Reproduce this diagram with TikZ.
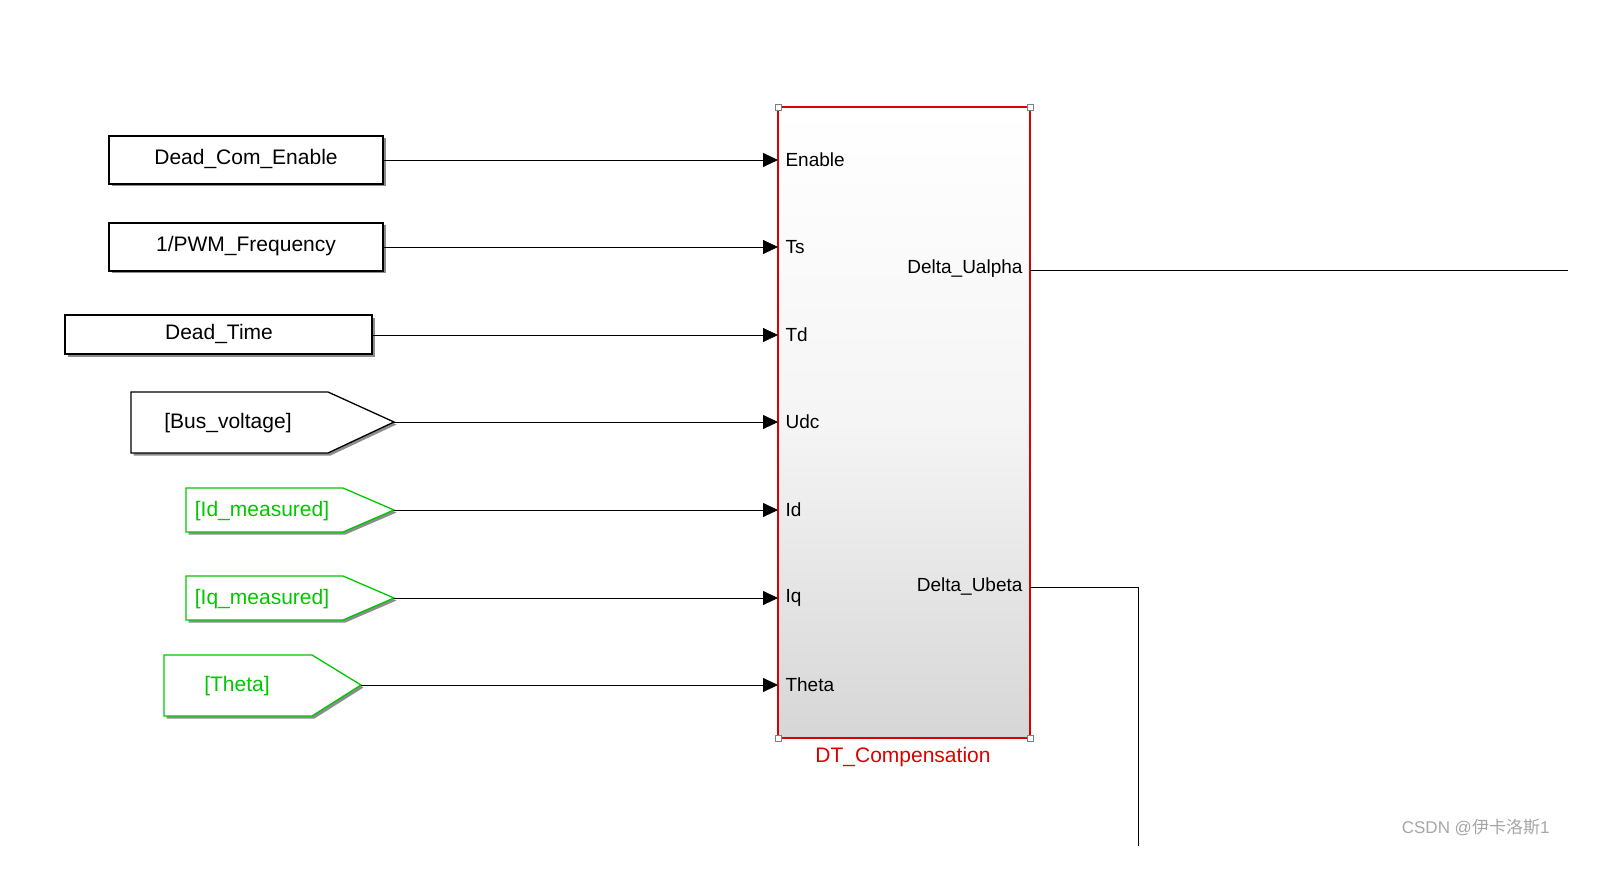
\documentclass[tikz,border=0pt]{standalone}
\usepackage{fontspec}
\setmainfont{Liberation Sans}
\newfontfamily\cjk{Noto Sans CJK SC}
\usetikzlibrary{arrows.meta}
\definecolor{sgreen}{RGB}{0,200,0}
\definecolor{sred}{RGB}{220,0,0}
\begin{document}
\begin{tikzpicture}[x=1pt,y=-1pt,
  blk/.style={draw=black,line width=1.3pt,fill=white},
  gblk/.style={draw=sgreen,line width=1.3pt,fill=white},
  shad/.style={fill=black!45,draw=none,shift={(2.5,2.5)}},
  sig/.style={draw=black,line width=0.8pt,-{Triangle[length=15pt,width=14pt]}},
  wire/.style={draw=black,line width=0.8pt},
  txt/.style={font=\fontsize{21}{25}\selectfont},
  port/.style={font=\fontsize{19}{23}\selectfont},
  handle/.style={draw=black!50,fill=white,minimum size=6pt,inner sep=0pt}]
\useasboundingbox (0,0) rectangle (1610,869);
\clip (0,0) rectangle (1610,869);
% main block
\shade[top color=white,bottom color=black!16,middle color=white!96!black] (778,107) rectangle (1030,738);
\draw[sred,line width=2.4pt] (778,107) rectangle (1030,738);
\node[handle] (h1) at (778,107) {};
\node[handle] (h2) at (1030,107) {};
\node[handle] (h3) at (778,738) {};
\node[handle] (h4) at (1030,738) {};
\node[text=sred,txt] (lab) at (903,757) {DT\_Compensation};
% ports
\foreach \n/\t/\y in {pe/Enable/160,pts/Ts/247,ptd/Td/335,pu/Udc/422,pid/Id/510,piq/Iq/598,pth/Theta/685}{
  \coordinate (\n) at (778,\y);
  \node[port,anchor=west] at (782,\y) {\t};
}
\node[port,anchor=east] (oa) at (1026,269) {Delta\_Ualpha};
\node[port,anchor=east] (ob) at (1026,587) {Delta\_Ubeta};
\coordinate (oac) at (1030,270);
\coordinate (obc) at (1030,587);
\coordinate (oaend) at (1568,270);
\coordinate (obturn) at (1138,587);
\coordinate (obend) at (1138,846);
\draw[wire] (oac) -- (oaend);
\draw[wire] (obc) -- (obturn) -- (obend);
% inputs
\fill[shad] (109,136) rectangle (383,184);
\draw[blk] (109,136) rectangle (383,184);
\node[txt] (a) at (246,159) {Dead\_Com\_Enable};
\coordinate (ao) at (383,160);
\fill[shad] (109,223) rectangle (383,271);
\draw[blk] (109,223) rectangle (383,271);
\node[txt] (b) at (246,246) {1/PWM\_Frequency};
\coordinate (bo) at (383,247);
\fill[shad] (65,315) rectangle (372,354);
\draw[blk] (65,315) rectangle (372,354);
\node[txt] (c) at (219,334) {Dead\_Time};
\coordinate (co) at (372,335);
\fill[shad] (131,392) -- (328,392) -- (394,422) -- (328,453) -- (131,453) -- cycle;
\draw[blk] (131,392) -- (328,392) -- (394,422) -- (328,453) -- (131,453) -- cycle;
\node[txt] (d) at (228,423) {[Bus\_voltage]};
\coordinate (do) at (394,422);
\fill[shad] (186,488) -- (343,488) -- (394,510) -- (343,532) -- (186,532) -- cycle;
\draw[gblk] (186,488) -- (343,488) -- (394,510) -- (343,532) -- (186,532) -- cycle;
\node[txt,text=sgreen] (e) at (262,511) {[Id\_measured]};
\coordinate (eo) at (394,510);
\fill[shad] (186,576) -- (343,576) -- (394,598) -- (343,620) -- (186,620) -- cycle;
\draw[gblk] (186,576) -- (343,576) -- (394,598) -- (343,620) -- (186,620) -- cycle;
\node[txt,text=sgreen] (f) at (262,599) {[Iq\_measured]};
\coordinate (fo) at (394,598);
\fill[shad] (164,655) -- (312,655) -- (361,685) -- (312,716) -- (164,716) -- cycle;
\draw[gblk] (164,655) -- (312,655) -- (361,685) -- (312,716) -- (164,716) -- cycle;
\node[txt,text=sgreen] (g) at (237,686) {[Theta]};
\coordinate (go) at (361,685);
\draw[sig] (ao) -- (pe);
\draw[sig] (bo) -- (pts);
\draw[sig] (co) -- (ptd);
\draw[sig] (do) -- (pu);
\draw[sig] (eo) -- (pid);
\draw[sig] (fo) -- (piq);
\draw[sig] (go) -- (pth);
\node[text=black!35,font=\fontsize{17}{20}\selectfont,anchor=east] (wm) at (1553,828) {CSDN @{\cjk 伊卡洛斯}1};
\end{tikzpicture}
\end{document}
